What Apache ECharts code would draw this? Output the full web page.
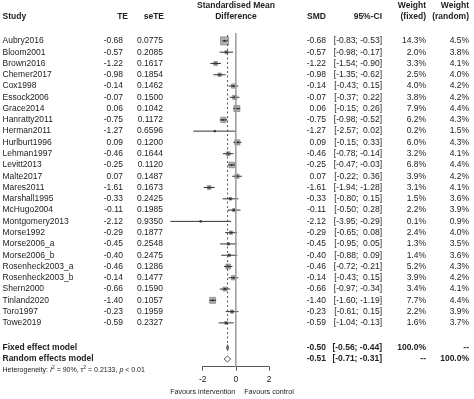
<!DOCTYPE html>
<html>
<head>
<meta charset="utf-8">
<script src="https://cdn.jsdelivr.net/npm/echarts@6/dist/echarts.min.js"></script>
<style>
html, body { margin: 0; padding: 0; background: #fff; }
#forest { width: 474px; height: 399px; }
</style>
</head>
<body>
<div id="forest"></div>
<script>
// study level data
const studies = ["Aubry2016", "Bloom2001", "Brown2016", "Chemer2017", "Cox1998", "Essock2006",
  "Grace2014", "Hanratty2011", "Herman2011", "Hurlburt1996", "Lehman1997", "Levitt2013",
  "Malte2017", "Mares2011", "Marshall1995", "McHugo2004", "Montgomery2013", "Morse1992",
  "Morse2006_a", "Morse2006_b", "Rosenheck2003_a", "Rosenheck2003_b", "Shern2000",
  "Tinland2020", "Toro1997", "Towe2019"];
const te = [-0.68, -0.57, -1.22, -0.98, -0.14, -0.07, 0.06, -0.75, -1.27, 0.09, -0.46, -0.25,
  0.07, -1.61, -0.33, -0.11, -2.12, -0.29, -0.45, -0.40, -0.46, -0.14, -0.66, -1.40, -0.23, -0.59];
const seTE = ["0.0775", "0.2085", "0.1617", "0.1854", "0.1462", "0.1500", "0.1042", "0.1172",
  "0.6596", "0.1200", "0.1644", "0.1120", "0.1487", "0.1673", "0.2425", "0.1985", "0.9350",
  "0.1877", "0.2548", "0.2475", "0.1286", "0.1477", "0.1590", "0.1057", "0.1959", "0.2327"];
const ciLow = [-0.83, -0.98, -1.54, -1.35, -0.43, -0.37, -0.15, -0.98, -2.57, -0.15, -0.78, -0.47,
  -0.22, -1.94, -0.80, -0.50, -3.95, -0.65, -0.95, -0.88, -0.72, -0.43, -0.97, -1.60, -0.61, -1.04];
const ciHigh = [-0.53, -0.17, -0.90, -0.62, 0.15, 0.22, 0.26, -0.52, 0.02, 0.33, -0.14, -0.03,
  0.36, -1.28, 0.15, 0.28, -0.29, 0.08, 0.05, 0.09, -0.21, 0.15, -0.34, -1.19, 0.15, -0.13];
const wFixed = [14.3, 2.0, 3.3, 2.5, 4.0, 3.8, 7.9, 6.2, 0.2, 6.0, 3.2, 6.8, 3.9, 3.1, 1.5, 2.2,
  0.1, 2.4, 1.3, 1.4, 5.2, 3.9, 3.4, 7.7, 2.2, 1.6];
const wRandom = [4.5, 3.8, 4.1, 4.0, 4.2, 4.2, 4.4, 4.3, 1.5, 4.3, 4.1, 4.4, 4.2, 4.1, 3.6, 3.9,
  0.9, 4.0, 3.5, 3.6, 4.3, 4.2, 4.1, 4.4, 3.9, 3.7];

// pooled estimates: [SMD, lower, upper]
const fixedModel = [-0.50, -0.56, -0.44];
const randomModel = [-0.51, -0.71, -0.31];
const xTicks = [-2, 0, 2];

// layout
const FONT = "'Liberation Sans', Arial, sans-serif";
const FS = 8.5;
const INK = "#222";
const ROW0 = 40.9, ROWH = 11.28;
const GRID_TOP = 33, GRID_BOT = 366.7;
const GRID_L = 202.7, GRID_R = 269;
const rowOf = y => (y - ROW0) / ROWH;
const nStudy = studies.length;
const fixedRow = nStudy + 1.2;
const randomRow = nStudy + 2.2;

const fmt = v => v.toFixed(2);
const fmtCI = (lo, hi) => "[" + fmt(lo) + "; " + (hi >= 0 ? " " : "") + fmt(hi) + "]";

const cols = [
  { x: 2.5, align: "left" },
  { x: 123, align: "right" },
  { x: 163, align: "right" },
  { x: 326, align: "right" },
  { x: 382, align: "right" },
  { x: 426, align: "right" },
  { x: 469, align: "right" }
];

const tableRows = studies.map((s, i) => ({
  row: i, bold: false,
  cells: [s, fmt(te[i]), seTE[i], fmt(te[i]), fmtCI(ciLow[i], ciHigh[i]),
    wFixed[i].toFixed(1) + "%", wRandom[i].toFixed(1) + "%"]
}));
tableRows.push({ row: fixedRow, bold: true,
  cells: ["Fixed effect model", "", "", fmt(fixedModel[0]), fmtCI(fixedModel[1], fixedModel[2]), "100.0%", "--"] });
tableRows.push({ row: randomRow, bold: true,
  cells: ["Random effects model", "", "", fmt(randomModel[0]), fmtCI(randomModel[1], randomModel[2]), "--", "100.0%"] });

function renderTable(params, api) {
  const r = tableRows[params.dataIndex];
  const y = api.coord([0, r.row])[1];
  return {
    type: "group",
    children: r.cells.map((t, k) => ({
      type: "text",
      style: {
        x: cols[k].x, y: y, text: t, align: cols[k].align, verticalAlign: "middle",
        fontFamily: FONT, fontSize: FS, fontWeight: r.bold ? "bold" : "normal", fill: INK
      }
    }))
  };
}

function renderStudy(params, api) {
  const row = api.value(1);
  const c = api.coord([api.value(0), row]);
  const lo = api.coord([api.value(2), row]);
  const hi = api.coord([api.value(3), row]);
  const size = Math.max(1.5, 8 * Math.sqrt(api.value(4) / 14.3));
  return {
    type: "group",
    children: [
      { type: "rect", shape: { x: c[0] - size / 2, y: c[1] - size / 2, width: size, height: size },
        style: { fill: "#b4b4b4", stroke: "#7a7a7a", lineWidth: 0.7 } },
      { type: "line", shape: { x1: lo[0], y1: c[1], x2: hi[0], y2: c[1] },
        style: { stroke: "#333", lineWidth: 1 } },
      { type: "rect", shape: { x: c[0] - 1, y: c[1] - 1, width: 2, height: 2 },
        style: { fill: "#333" } }
    ]
  };
}

function renderDiamond(params, api) {
  const row = api.value(1);
  const c = api.coord([api.value(0), row]);
  const lo = api.coord([api.value(2), row]);
  const hi = api.coord([api.value(3), row]);
  const h = 3;
  return {
    type: "polygon",
    shape: { points: [[lo[0], c[1]], [c[0], c[1] - h], [hi[0], c[1]], [c[0], c[1] + h]] },
    style: { fill: params.dataIndex === 0 ? "#999" : "#fff", stroke: "#444", lineWidth: 0.9 }
  };
}

const xPix = v => GRID_L + (v - xTicks[0]) / (xTicks[xTicks.length - 1] - xTicks[0]) * (GRID_R - GRID_L);
const txt = (x, y, t, align, bold, size) => ({
  type: "text", x: x, y: y, silent: true,
  style: { text: t, align: align, verticalAlign: "middle", fontFamily: FONT,
    fontSize: size || FS, fontWeight: bold ? "bold" : "normal", fill: INK }
});

const chart = echarts.init(document.getElementById("forest"), null, { renderer: "canvas" });
chart.setOption({
  animation: false,
  backgroundColor: "#fff",
  grid: { left: GRID_L, right: 474 - GRID_R, top: GRID_TOP, bottom: 399 - GRID_BOT },
  xAxis: {
    type: "value", min: xTicks[0], max: xTicks[xTicks.length - 1], interval: 2,
    axisLine: { show: true, onZero: false, lineStyle: { color: "#555", width: 1 } },
    axisTick: { show: true, length: 4, lineStyle: { color: "#555" } },
    axisLabel: { color: INK, fontFamily: FONT, fontSize: FS, margin: 8 },
    splitLine: { show: false }
  },
  yAxis: {
    type: "value", inverse: true, min: rowOf(GRID_TOP), max: rowOf(GRID_BOT), show: false
  },
  graphic: [
    txt(2.5, 17, "Study", "left", true),
    txt(128, 17, "TE", "right", true),
    txt(164, 17, "seTE", "right", true),
    txt(236, 6, "Standardised Mean", "center", true),
    txt(236, 17, "Difference", "center", true),
    txt(326, 17, "SMD", "right", true),
    txt(382, 17, "95%-CI", "right", true),
    txt(426, 6, "Weight", "right", true),
    txt(426, 17, "(fixed)", "right", true),
    txt(469, 6, "Weight", "right", true),
    txt(469, 17, "(random)", "right", true),
    txt(xPix(-2), 392, "Favours intervention", "center", false, 7.2),
    txt(xPix(2), 392, "Favours control", "center", false, 7.2),
    {
      type: "text", x: 2.5, y: 370, silent: true,
      style: {
        text: "{n|Heterogeneity: }{i|I}{s|2}{n| = 90%, τ}{s|2}{n| = 0.2133, }{i|p}{n| < 0.01}",
        verticalAlign: "middle", fill: INK, fontFamily: FONT, fontSize: 7,
        rich: {
          n: { fontSize: 7, fontFamily: FONT, fill: INK },
          i: { fontSize: 7, fontFamily: FONT, fontStyle: "italic", fill: INK },
          s: { fontSize: 5, fontFamily: FONT, fill: INK, padding: [0, 0, 4, 0] }
        }
      }
    }
  ],
  series: [
    {
      type: "line", symbol: "none", silent: true,
      data: [[0, rowOf(GRID_TOP)], [0, rowOf(GRID_BOT)]],
      lineStyle: { color: "#9a9a9a", width: 1.5 }
    },
    {
      type: "line", symbol: "none", silent: true,
      data: [[fixedModel[0], rowOf(GRID_TOP + 2)], [fixedModel[0], fixedRow]],
      lineStyle: { color: "#555", width: 1, type: [2, 2.5] }
    },
    {
      type: "custom", clip: false, renderItem: renderStudy,
      data: studies.map((s, i) => [te[i], i, ciLow[i], ciHigh[i], wFixed[i]])
    },
    {
      type: "custom", clip: false, renderItem: renderDiamond,
      data: [[fixedModel[0], fixedRow, fixedModel[1], fixedModel[2]],
             [randomModel[0], randomRow, randomModel[1], randomModel[2]]]
    },
    {
      type: "custom", clip: false, renderItem: renderTable,
      data: tableRows.map(r => [0, r.row])
    }
  ]
});
</script>
</body>
</html>
